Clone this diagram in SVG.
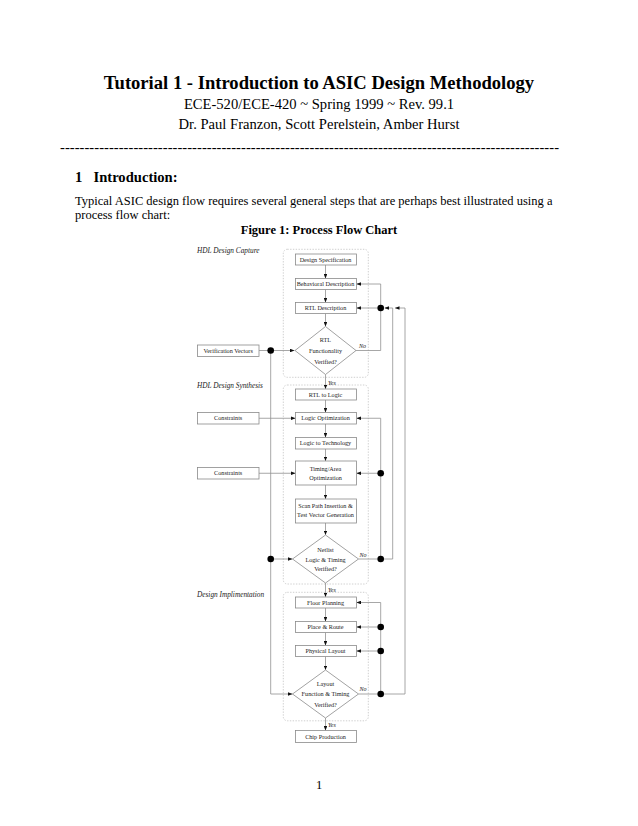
<svg xmlns="http://www.w3.org/2000/svg" width="638" height="826" viewBox="0 0 638 826">
<style>
text{font-family:"Liberation Serif","Times New Roman",serif;fill:#000}
.t{font-size:18.6px;font-weight:bold;text-anchor:middle}
.s{font-size:14.6px;text-anchor:middle}
.h{font-size:14.6px;font-weight:bold}
.b{font-size:12.5px}
.c{font-size:12.5px;font-weight:bold;text-anchor:middle}
.box{fill:#fff;stroke:#8a8a8a;stroke-width:0.8}
.grp{fill:none;stroke:#c4c4c4;stroke-width:0.8;stroke-dasharray:1.4 1.4}
.ln{fill:none;stroke:#909090;stroke-width:0.8}
.lbl{font-size:6.2px;text-anchor:middle;fill:#222}
.gl{font-size:7.3px;font-style:italic;fill:#222}
.yn{font-size:6px;font-style:italic;fill:#222}
.dot{fill:#000}
</style>
<defs>
<marker id="a" markerUnits="userSpaceOnUse" markerWidth="4.5" markerHeight="3.6" refX="4.5" refY="1.8" orient="auto">
<path d="M0,0 L4.5,1.8 L0,3.6 z" fill="#111"/>
</marker>
</defs>

<g id="header">
<text class="t" x="319" y="89">Tutorial 1 - Introduction to ASIC Design Methodology</text>
<text class="s" x="319" y="108.5">ECE-520/ECE-420 ~ Spring 1999 ~ Rev. 99.1</text>
<text class="s" x="319" y="129">Dr. Paul Franzon, Scott Perelstein, Amber Hurst</text>
<text x="60" y="151.5" font-size="14.6" textLength="499" lengthAdjust="spacing">------------------------------------------------------------------------------------------------------</text>
<text class="h" x="75" y="182">1</text>
<text class="h" x="93.5" y="182">Introduction:</text>
<text class="b" x="75" y="204.5">Typical ASIC design flow requires several general steps that are perhaps best illustrated using a</text>
<text class="b" x="75" y="218.5">process flow chart:</text>
<text class="c" x="319" y="233.5">Figure 1: Process Flow Chart</text>
<text x="319" y="788.5" font-size="12.5" text-anchor="middle">1</text>
</g>

<g id="groups">
<rect class="grp" x="283.3" y="249.3" width="85" height="128" rx="4"/>
<rect class="grp" x="283.3" y="385" width="85" height="199" rx="4"/>
<rect class="grp" x="283.3" y="592.3" width="85" height="128.5" rx="4"/>
<text class="gl" x="197" y="253">HDL Design Capture</text>
<text class="gl" x="197" y="388">HDL Design Synthesis</text>
<text class="gl" x="197" y="596.5">Design Implimentation</text>
</g>

<g id="connectors">
<path class="ln" d="M325.5,265 V278.5" marker-end="url(#a)"/>
<path class="ln" d="M325.5,289.5 V302.5" marker-end="url(#a)"/>
<path class="ln" d="M325.5,313.5 V326.5" marker-end="url(#a)"/>
<path class="ln" d="M325.5,374.5 V389" marker-end="url(#a)"/>
<path class="ln" d="M325.5,400 V412.5" marker-end="url(#a)"/>
<path class="ln" d="M325.5,424 V437.5" marker-end="url(#a)"/>
<path class="ln" d="M325.5,449 V461" marker-end="url(#a)"/>
<path class="ln" d="M325.5,485 V499" marker-end="url(#a)"/>
<path class="ln" d="M325.5,523 V535" marker-end="url(#a)"/>
<path class="ln" d="M325.5,583 V597" marker-end="url(#a)"/>
<path class="ln" d="M325.5,608 V621.5" marker-end="url(#a)"/>
<path class="ln" d="M325.5,632.5 V645.5" marker-end="url(#a)"/>
<path class="ln" d="M325.5,656.5 V670" marker-end="url(#a)"/>
<path class="ln" d="M325.5,718 V730.5" marker-end="url(#a)"/>

<path class="ln" d="M259,350.5 H294.5" marker-end="url(#a)"/>
<path class="ln" d="M259,418.25 H295.5" marker-end="url(#a)"/>
<path class="ln" d="M259,473.25 H295.5" marker-end="url(#a)"/>
<path class="ln" d="M270.7,350.5 V694 H292.5" marker-end="url(#a)"/>
<path class="ln" d="M270.7,559 H292.5" marker-end="url(#a)"/>

<path class="ln" d="M356,350.5 H380.7 V284 H356.5" marker-end="url(#a)"/>
<path class="ln" d="M380.7,308 H356.5" marker-end="url(#a)"/>
<path class="ln" d="M358.5,559 H392.7 V308 H384.5" marker-end="url(#a)"/>
<path class="ln" d="M380.7,559 V418.25 H356.5" marker-end="url(#a)"/>
<path class="ln" d="M380.7,473.25 H356.5" marker-end="url(#a)"/>
<path class="ln" d="M358.5,694 H405 V308 H395" marker-end="url(#a)"/>
<path class="ln" d="M380.7,694 V602.5 H356.5" marker-end="url(#a)"/>
<path class="ln" d="M380.7,627 H356.5" marker-end="url(#a)"/>
<path class="ln" d="M380.7,651 H356.5" marker-end="url(#a)"/>

<circle class="dot" cx="270.7" cy="350.5" r="3.3"/>
<circle class="dot" cx="270.7" cy="559" r="3.3"/>
<circle class="dot" cx="380.7" cy="308" r="3.3"/>
<circle class="dot" cx="380.7" cy="473.25" r="3.3"/>
<circle class="dot" cx="380.7" cy="559" r="3.3"/>
<circle class="dot" cx="380.7" cy="627" r="3.3"/>
<circle class="dot" cx="380.7" cy="651" r="3.3"/>
<circle class="dot" cx="380.7" cy="694" r="3.3"/>

<text class="yn" x="359" y="348">No</text>
<text class="yn" x="359.5" y="556.5">No</text>
<text class="yn" x="359.5" y="690.5">No</text>
<text class="yn" x="328" y="384.5">Yes</text>
<text class="yn" x="328" y="592">Yes</text>
<text class="yn" x="328" y="727">Yes</text>
</g>

<g id="design-spec"><rect class="box" x="295.5" y="254" width="61" height="11"/><text class="lbl" x="325.5" y="261.7">Design Specification</text></g>
<g id="behavioral"><rect class="box" x="295.5" y="278.5" width="61" height="11"/><text class="lbl" x="325.5" y="286.2">Behavioral Description</text></g>
<g id="rtl-desc"><rect class="box" x="295.5" y="302.5" width="61" height="11"/><text class="lbl" x="325.5" y="310.2">RTL Description</text></g>
<g id="rtl-verified"><polygon class="box" points="325.5,326.5 356,350.5 325.5,374.5 295,350.5"/><text class="lbl" x="325.5" y="341.5">RTL</text><text class="lbl" x="325.5" y="352.7">Functionality</text><text class="lbl" x="325.5" y="363.7">Verified?</text></g>
<g id="verif-vectors"><rect class="box" x="197.5" y="345" width="61.5" height="11.5"/><text class="lbl" x="228.2" y="352.9">Verification Vectors</text></g>

<g id="rtl-to-logic"><rect class="box" x="295.5" y="389" width="61" height="11"/><text class="lbl" x="325.5" y="396.7">RTL to Logic</text></g>
<g id="logic-opt"><rect class="box" x="295.5" y="412.5" width="61" height="11.5"/><text class="lbl" x="325.5" y="420.4">Logic Optimization</text></g>
<g id="constraints1"><rect class="box" x="197.5" y="412.5" width="61.5" height="11.5"/><text class="lbl" x="228.2" y="420.4">Constraints</text></g>
<g id="logic-tech"><rect class="box" x="295.5" y="437.5" width="61" height="11.5"/><text class="lbl" x="325.5" y="445.4">Logic to Technology</text></g>
<g id="timing-area"><rect class="box" x="295.5" y="461" width="61" height="24"/><text class="lbl" x="325.5" y="471">Timing/Area</text><text class="lbl" x="325.5" y="479.5">Optimization</text></g>
<g id="constraints2"><rect class="box" x="197.5" y="467.5" width="61.5" height="11.5"/><text class="lbl" x="228.2" y="475.4">Constraints</text></g>
<g id="scan-path"><rect class="box" x="295.5" y="499" width="61" height="24"/><text class="lbl" x="325.5" y="507.8">Scan Path Insertion &amp;</text><text class="lbl" x="325.5" y="516.5">Test Vector Generation</text></g>
<g id="netlist-verified"><polygon class="box" points="325.5,535 358.5,559 325.5,583 292.5,559"/><text class="lbl" x="325.5" y="551.5">Netlist</text><text class="lbl" x="325.5" y="561.5">Logic &amp; Timing</text><text class="lbl" x="325.5" y="571.3">Verified?</text></g>

<g id="floor-planning"><rect class="box" x="295.5" y="597" width="61" height="11"/><text class="lbl" x="325.5" y="604.7">Floor Planning</text></g>
<g id="place-route"><rect class="box" x="295.5" y="621.5" width="61" height="11"/><text class="lbl" x="325.5" y="629.2">Place &amp; Route</text></g>
<g id="physical-layout"><rect class="box" x="295.5" y="645.5" width="61" height="11"/><text class="lbl" x="325.5" y="653.2">Physical Layout</text></g>
<g id="layout-verified"><polygon class="box" points="325.5,670 358.5,694 325.5,718 292.5,694"/><text class="lbl" x="325.5" y="685.7">Layout</text><text class="lbl" x="325.5" y="696.2">Function &amp; Timing</text><text class="lbl" x="325.5" y="706.5">Verified?</text></g>
<g id="chip-production"><rect class="box" x="295.5" y="730.5" width="61" height="12"/><text class="lbl" x="325.5" y="738.7">Chip Production</text></g>
</svg>
